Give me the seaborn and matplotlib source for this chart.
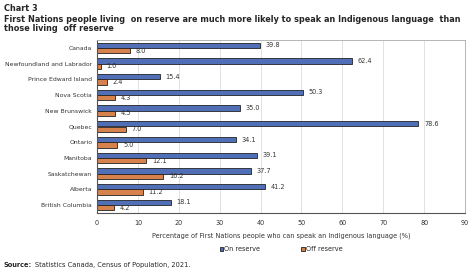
import pandas as pd
import matplotlib.pyplot as plt
import seaborn as sns

regions = ["Canada", "Newfoundland and Labrador", "Prince Edward Island", "Nova Scotia",
           "New Brunswick", "Quebec", "Ontario", "Manitoba", "Saskatchewan", "Alberta",
           "British Columbia"]
on_reserve = [39.8, 62.4, 15.4, 50.3, 35.0, 78.6, 34.1, 39.1, 37.7, 41.2, 18.1]
off_reserve = [8.0, 1.0, 2.4, 4.3, 4.5, 7.0, 5.0, 12.1, 16.2, 11.2, 4.2]
series = ["On reserve", "Off reserve"]
xticks = list(range(0, 100, 10))


def main():
    df = pd.DataFrame({
        "region": regions * 2,
        "value": on_reserve + off_reserve,
        "series": [series[0]] * len(regions) + [series[1]] * len(regions),
    })

    sns.set_style("white")
    plt.rcParams['font.family'] = ['DejaVu Sans']
    fig = plt.figure(figsize=(4.74, 2.73), dpi=100)
    ax = fig.add_axes([97 / 474, 1 - 213 / 273, (465 - 97) / 474, (213 - 40) / 273])

    sns.barplot(data=df, x="value", y="region", hue="series", orient="h",
                palette=["#3F68C8", "#EE7D35"], edgecolor="#222222", linewidth=0.6,
                width=0.68, ax=ax, legend=True)

    for cont in ax.containers:
        ax.bar_label(cont, fmt="%.1f", padding=4, fontsize=4.7, color="#333333")

    ax.set_xlim(0, 90)
    ax.set_xticks(xticks)
    ax.set_xticklabels([str(t) for t in xticks], fontsize=4.7, color="#333333")
    ax.tick_params(axis="y", labelsize=4.4, length=0, pad=3.5, colors="#333333")
    ax.tick_params(axis="x", length=0, pad=5)
    ax.xaxis.grid(True, color="#dddddd", linewidth=0.6)
    ax.set_axisbelow(True)
    for side in ["left", "bottom"]:
        ax.spines[side].set_color("#555555")
        ax.spines[side].set_linewidth(0.8)
    for side in ["top", "right"]:
        ax.spines[side].set_color("#aaaaaa")
        ax.spines[side].set_linewidth(0.6)
    ax.set_ylabel("")
    ax.set_xlabel("Percentage of First Nations people who can speak an Indigenous language (%)",
                  fontsize=4.7, color="#333333", labelpad=5)

    handles, labels = ax.get_legend_handles_labels()
    ax.legend(handles, labels, loc="center", bbox_to_anchor=(0.5, -0.21), ncol=2,
              frameon=False, fontsize=4.7, handlelength=0.55, handleheight=0.55,
              handletextpad=0.15, columnspacing=6.3)

    fig.text(0.008, 0.985, "Chart 3", fontsize=5.9, fontweight="bold", va="top")
    fig.text(0.008, 0.945,
             "First Nations people living  on reserve are much more likely to speak an Indigenous language  than\nthose living  off reserve",
             fontsize=5.9, fontweight="bold", va="top", linespacing=1.05)
    fig.text(0.008, 0.02, "Source:", fontsize=4.8, fontweight="bold", va="bottom")
    fig.text(0.073, 0.02, "Statistics Canada, Census of Population, 2021.", fontsize=4.8, va="bottom")

    plt.savefig("out.png", dpi=100)
    plt.close()


if __name__ == "__main__":
    main()
